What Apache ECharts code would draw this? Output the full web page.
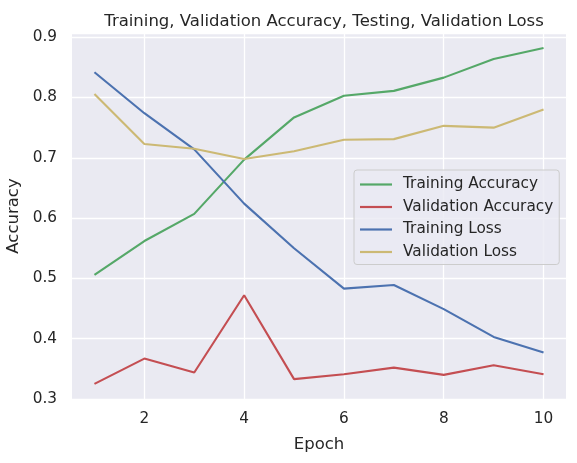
<!DOCTYPE html>
<html>
<head>
<meta charset="utf-8">
<script src="https://cdn.jsdelivr.net/npm/echarts@6/dist/echarts.min.js"></script>
<style>
  html, body { margin: 0; padding: 0; background: #ffffff; }
  #main { width: 577px; height: 463px; }
</style>
</head>
<body>
<div id="main"></div>
<script>
// epochs and the four curves
var epochs = [1, 2, 3, 4, 5, 6, 7, 8, 9, 10];
var trainAcc = [0.506, 0.562, 0.607, 0.697, 0.767, 0.803, 0.811, 0.833, 0.864, 0.882];
var valAcc = [0.325, 0.367, 0.344, 0.472, 0.333, 0.341, 0.352, 0.340, 0.356, 0.341];
var trainLoss = [0.842, 0.774, 0.714, 0.624, 0.550, 0.483, 0.489, 0.449, 0.403, 0.377];
var valLoss = [0.806, 0.723, 0.715, 0.698, 0.711, 0.730, 0.731, 0.753, 0.750, 0.780];
var xTicks = [2, 4, 6, 8, 10];
var seriesNames = ['Training Accuracy', 'Validation Accuracy', 'Training Loss', 'Validation Loss'];
var seriesColors = ['#55A868', '#C44E52', '#4C72B0', '#CCB974'];

var txt = '#262626';
var font = '"DejaVu Sans", sans-serif';

function pairs(vals) {
  return epochs.map(function (e, i) { return [e, vals[i]]; });
}

var allData = [trainAcc, valAcc, trainLoss, valLoss];
var series = allData.map(function (vals, i) {
  return {
    name: seriesNames[i],
    type: 'line',
    data: pairs(vals),
    symbol: 'none',
    lineStyle: { width: 2.1, color: seriesColors[i] },
    itemStyle: { color: seriesColors[i] },
    emphasis: { disabled: true }
  };
});

var chart = echarts.init(document.getElementById('main'), null, { renderer: 'canvas' });
chart.setOption({
  animation: false,
  backgroundColor: '#ffffff',
  title: {
    text: 'Training, Validation Accuracy, Testing, Validation Loss',
    left: 319,
    top: 8,
    textAlign: 'center',
    textStyle: { fontFamily: font, fontSize: 16.5, fontWeight: 'normal', color: txt }
  },
  grid: {
    left: 72, right: 11, top: 33, bottom: 64,
    show: true, backgroundColor: '#EAEAF2', borderWidth: 0,
    outerBoundsMode: 'none'
  },
  legend: {
    orient: 'vertical',
    left: 354,
    top: 170,
    padding: [7, 6, 5, 6],
    itemGap: 7.5,
    itemWidth: 32,
    itemHeight: 2.2,
    icon: 'rect',
    backgroundColor: 'rgba(234,234,242,0.8)',
    borderColor: '#cccccc',
    borderWidth: 1,
    borderRadius: 3,
    textStyle: { fontFamily: font, fontSize: 15.3, color: txt, padding: [0, 0, 0, 6] },
    data: seriesNames
  },
  xAxis: {
    type: 'value',
    min: 0.55,
    max: 10.45,
    name: 'Epoch',
    nameLocation: 'middle',
    nameGap: 37,
    nameTextStyle: { fontFamily: font, fontSize: 16.5, color: txt },
    axisLine: { show: false },
    axisTick: { show: false, customValues: xTicks },
    axisLabel: { fontFamily: font, fontSize: 15.3, color: txt, margin: 13, customValues: xTicks },
    splitLine: { show: true, lineStyle: { color: '#ffffff', width: 1.3 } }
  },
  yAxis: {
    type: 'value',
    min: 0.3,
    max: 0.907,
    interval: 0.1,
    name: 'Accuracy',
    nameLocation: 'middle',
    nameGap: 42,
    nameTextStyle: { fontFamily: font, fontSize: 16.5, color: txt },
    axisLine: { show: false },
    axisTick: { show: false },
    axisLabel: {
      fontFamily: font, fontSize: 15.3, color: txt, margin: 15, showMaxLabel: false,
      formatter: function (v) { return v.toFixed(1); }
    },
    splitLine: { show: true, lineStyle: { color: '#ffffff', width: 1.3 } }
  },
  series: series
});
</script>
</body>
</html>
